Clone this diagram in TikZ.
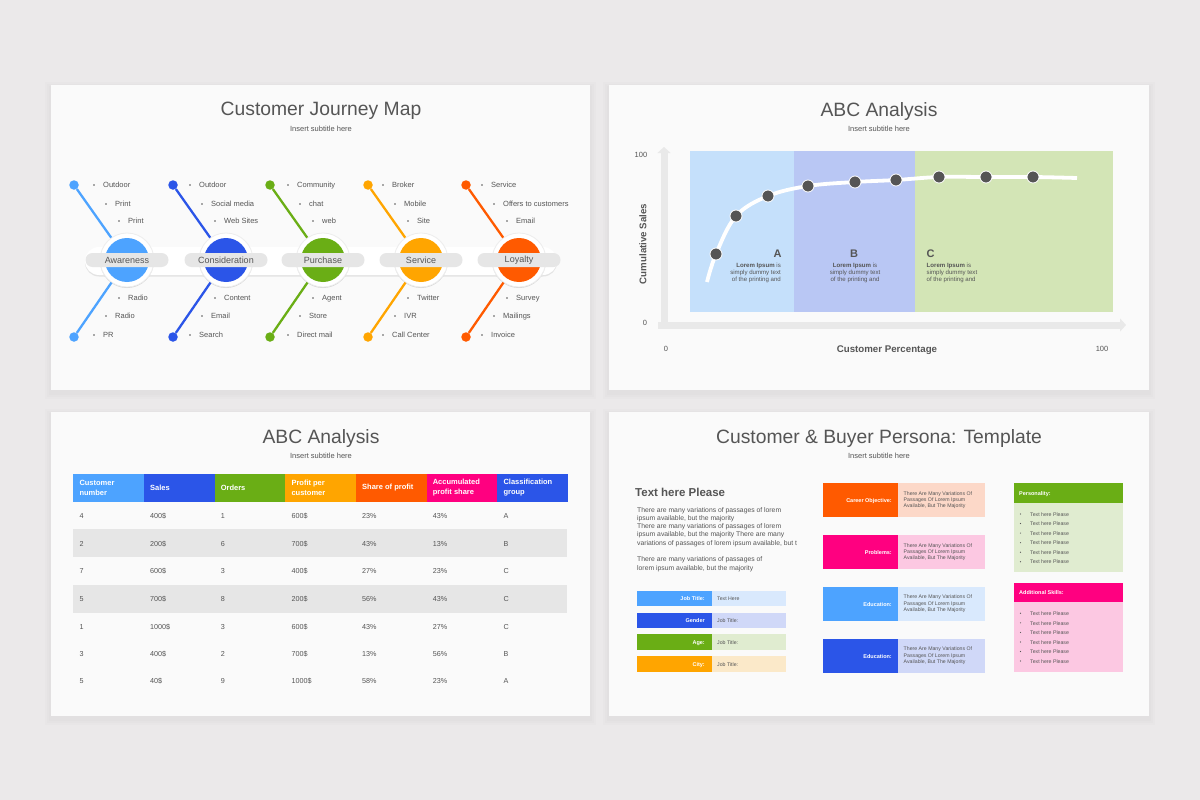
\documentclass[tikz,border=0pt]{standalone}
\usepackage{fontspec}
\setmainfont{Liberation Sans}
\usepackage{tikz}
\usetikzlibrary{arrows.meta,shadows}

\definecolor{pagegray}{HTML}{EBE9EA}
\definecolor{cardwhite}{HTML}{FAFAFA}
\definecolor{txtgray}{HTML}{555555}
\definecolor{pillgray}{HTML}{E6E6E6}
\definecolor{axisgray}{HTML}{E9E9E9}
\definecolor{cblue}{HTML}{4DA3FF}
\definecolor{cnavy}{HTML}{2B55E8}
\definecolor{cgreen}{HTML}{6AAE15}
\definecolor{camber}{HTML}{FFA500}
\definecolor{corange}{HTML}{FF5A00}
\definecolor{cpink}{HTML}{FF0080}
\definecolor{lblue}{HTML}{D9E9FD}
\definecolor{lnavy}{HTML}{D0D8F8}
\definecolor{lgreen}{HTML}{E0ECD0}
\definecolor{lamber}{HTML}{FBE9C9}
\definecolor{lorange}{HTML}{FCD8C8}
\definecolor{lpink}{HTML}{FCC8E2}
\definecolor{zonea}{HTML}{C5E0FB}
\definecolor{zoneb}{HTML}{B9C7F4}
\definecolor{zonec}{HTML}{D3E5B6}

\tikzset{
  oneline/.style={execute at begin node=\vphantom{Ag},yshift=-0.9pt},
  title/.style={font=\fontsize{19.3}{22}\selectfont,text=txtgray,inner sep=0,oneline},
  subtitle/.style={font=\fontsize{7.5}{9}\selectfont,text=txtgray,inner sep=0,oneline},
  lbl/.style={font=\fontsize{7.5}{9}\selectfont,text=txtgray,inner sep=0,anchor=west,oneline},
  pill/.style={fill=pillgray,rounded corners=7pt,minimum width=83pt,minimum height=14pt,inner sep=0,
    font=\fontsize{9}{10}\selectfont,text=txtgray,execute at begin node=\vphantom{Ag}},
  ring/.style={circle,fill=white,draw=black!7,line width=0.8pt,minimum size=54pt,inner sep=0,
    drop shadow={opacity=0.3,shadow xshift=0pt,shadow yshift=-1pt}},
  dot/.style={circle,fill=#1,minimum size=9.5pt,inner sep=0},
  chartdot/.style={circle,fill=txtgray,draw=white,line width=0.8pt,minimum size=12pt,inner sep=0},
  axislbl/.style={font=\bfseries\fontsize{9.7}{11}\selectfont,text=txtgray,inner sep=0,oneline},
  tick/.style={font=\fontsize{7.5}{9}\selectfont,text=txtgray,inner sep=0,oneline},
  lorem/.style={font=\fontsize{6.1}{7.4}\selectfont,text=txtgray,inner sep=0,align=#1},
  thead/.style={font=\bfseries\fontsize{7.5}{10.2}\selectfont,text=white,inner sep=0,anchor=west,align=left},
  tcell/.style={font=\fontsize{7.2}{8}\selectfont,text=txtgray,inner sep=0,anchor=west,oneline},
  para/.style={font=\fontsize{6.8}{8}\selectfont,text=txtgray,inner sep=0,anchor=west,oneline},
  rowlbl/.style={font=\bfseries\fontsize{5.5}{7}\selectfont,text=white,inner sep=0,oneline},
  rowtxt/.style={font=\fontsize{5.2}{6.3}\selectfont,text=txtgray,inner sep=0,anchor=west,align=left}
}

\begin{document}
\begin{tikzpicture}[x=1pt,y=-1pt]
    % draw background
    \fill[pagegray] (0,0) rectangle (1200,800);
    \useasboundingbox (0,0) rectangle (1200,800);

    % draw cards
    \foreach \xa/\ya/\xb/\yb in {51/85/590/390,609/85/1149/390,51/412/590/716,609/412/1149/716}{
      \foreach \s in {6,4,2}
        \fill[black,opacity=0.012] (\xa-\s,\ya-\s+3) rectangle (\xb+\s,\yb+\s+3);
      \fill[cardwhite] (\xa,\ya) rectangle (\xb,\yb);
    }

    % draw titles
    \node[title] (titlemap) at (321,110.2) {Customer Journey Map};
    \node[subtitle] (submap) at (321,129) {Insert subtitle here};
    \node[title] (titleabc) at (879,110.2) {ABC Analysis};
    \node[subtitle] (subabc) at (879,129) {Insert subtitle here};
    \node[title] (titletable) at (321,437.2) {ABC Analysis};
    \node[subtitle] (subtable) at (321,456) {Insert subtitle here};
    \node[title] (titlepersona) at (879,437.2) {Customer \& Buyer Persona: Template};
    \node[subtitle] (subpersona) at (879,456) {Insert subtitle here};

    % draw journey band
    \fill[white,rounded corners=14pt,drop shadow={opacity=0.18,shadow xshift=0pt,shadow yshift=-1.5pt}] (85,247) rectangle (557,275);

    % draw journey stages
    \foreach \cx/\col/\name/\off/\topa/\topb/\topc/\bota/\botb/\botc [count=\i] in {
      127/cblue/Awareness/-24/Outdoor/Print/Print/PR/Radio/Radio,
      226/cnavy/Consideration/-27/Outdoor/Social media/Web Sites/Search/Email/Content,
      323/cgreen/Purchase/-26/Community/chat/web/Direct mail/Store/Agent,
      421/camber/Service/-29/Broker/Mobile/Site/Call Center/IVR/Twitter,
      519/corange/Loyalty/-28/Service/Offers to customers/Email/Invoice/Mailings/Survey}{
      \node[ring] (stage\i) at (\cx,260) {};
      \node[circle,fill=\col,minimum size=44pt,inner sep=0] (core\i) at (\cx,260) {};
      \node[pill] (pill\i) at (\cx,260) {\raisebox{-1pt}{\name}};
      \node[dot=\col] (up\i) at (\cx-53,185) {};
      \node[dot=\col] (down\i) at (\cx-53,337) {};
      \draw[\col,line width=2.3pt] (up\i) -- (stage\i);
      \draw[\col,line width=2.3pt] (down\i) -- (stage\i);
      % bullets and their texts
      \foreach \lab/\dx/\yy in {\topa/0/185,\topb/12/204,\topc/25/221,\botc/25/298,\botb/12/316,\bota/0/335}{
        \node[lbl] (item\i-\yy) at (\cx+\off+\dx,\yy) {\lab};
        \fill[txtgray] (\cx+\off+\dx-9,\yy) circle (0.8);
      }
    }

    % draw abc zones
    \fill[zonea] (690,151) rectangle (793.5,312);
    \fill[zoneb] (793.5,151) rectangle (915,312);
    \fill[zonec] (915,151) rectangle (1113,312);

    % draw axes
    \coordinate (origin) at (664,328);
    \coordinate (ytop) at (664,147);
    \coordinate (xstart) at (658,325);
    \coordinate (xend) at (1126,325);
    \draw[axisgray,line width=7pt,-{Triangle[width=13pt,length=6pt]}] (origin) -- (ytop);
    \draw[axisgray,line width=7pt,-{Triangle[width=13pt,length=6pt]}] (xstart) -- (xend);

    % draw axis labels
    \node[tick] (yhigh) at (641,155) {100};
    \node[tick] (ylow) at (645,323) {0};
    \node[tick] (xlow) at (666,349) {0};
    \node[tick] (xhigh) at (1102,349) {100};
    \node[axislbl,rotate=90] (ytitle) at (644,243) {Cumulative Sales};
    \node[axislbl] (xtitle) at (887,349) {Customer Percentage};

    % draw curve
    \coordinate (curvestart) at (707,282);
    \coordinate (curveend) at (1077,178);
    \foreach \x/\y [count=\i] in {716/254,736/216,768/196,808/186,855/182,896/180,939/177,986/177,1033/177}
      \coordinate (pt\i) at (\x,\y);
    \draw[white,line width=3.8pt] plot[smooth,tension=0.6] coordinates {(curvestart) (pt1) (pt2) (pt3) (pt4) (pt5) (pt6) (pt7) (pt8) (pt9) (curveend)};
    \foreach \i in {1,...,9}
      \node[chartdot] (dot\i) at (pt\i) {};

    % draw zone texts
    \node[axislbl,font=\bfseries\fontsize{11}{13}\selectfont] (zonelabela) at (777.5,254) {A};
    \node[axislbl,font=\bfseries\fontsize{11}{13}\selectfont] (zonelabelb) at (854,254) {B};
    \node[axislbl,font=\bfseries\fontsize{11}{13}\selectfont] (zonelabelc) at (930.5,254) {C};
    \node[lorem=right,anchor=north east] (zonetexta) at (781,262.5) {\textbf{Lorem Ipsum} is\\simply dummy text\\of the printing and};
    \node[lorem=center,anchor=north] (zonetextb) at (855,262.5) {\textbf{Lorem Ipsum} is\\simply dummy text\\of the printing and};
    \node[lorem=left,anchor=north west] (zonetextc) at (926.5,262.5) {\textbf{Lorem Ipsum} is\\simply dummy text\\of the printing and};

    % draw table header
    \foreach \x/\col/\name [count=\i] in {
      73.3/cblue/{Customer\\number},
      144/cnavy/Sales,
      214.6/cgreen/Orders,
      285.3/camber/{Profit per\\customer},
      356/corange/Share of profit,
      426.6/cpink/{Accumulated\\profit share},
      497.3/cnavy/{Classification\\group}}{
      \fill[\col] (\x,474) rectangle (\x+70.7,501.5);
      \node[thead] (head\i) at (\x+6,487.7) {\name};
    }

    % draw grey table rows
    \fill[pillgray] (73.3,529.2) rectangle (567,557);
    \fill[pillgray] (73.3,584.8) rectangle (567,612.5);

    % draw table cells
    \foreach \yy/\va/\vb/\vc/\vd/\ve/\vf/\vg in {
      516/4/400\$/1/600\$/23\%/43\%/A,
      543.5/2/200\$/6/700\$/43\%/13\%/B,
      571/7/600\$/3/400\$/27\%/23\%/C,
      599/5/700\$/8/200\$/56\%/43\%/C,
      626.5/1/1000\$/3/600\$/43\%/27\%/C,
      654/3/400\$/2/700\$/13\%/56\%/B,
      681/5/40\$/9/1000\$/58\%/23\%/A}{
      \foreach \x/\val in {79.3/\va,150/\vb,220.6/\vc,291.3/\vd,362/\ve,432.6/\vf,503.3/\vg}
        \node[tcell] (cell\x-\yy) at (\x,\yy) {\val};
    }

    % draw persona text
    \node[axislbl,anchor=west,font=\bfseries\fontsize{11.5}{13}\selectfont] (textheading) at (635,493) {Text here Please};
    \foreach \yy/\line in {
      510/There are many variations of passages of lorem,
      518.2/ipsum available{,} but the majority,
      526.3/There are many variations of passages of lorem,
      534.3/ipsum available{,} but the majority There are many,
      542.5/variations of passages of lorem  ipsum available{,} but t,
      559/There are many variations of passages of,
      567.5/lorem ipsum available{,} but the majority}
      \node[para] (para\yy) at (637,\yy) {\line};

    % draw job rows
    \foreach \ya/\yb/\col/\pale/\name/\val in {
      591/606/cblue/lblue/Job Title:/Text Here,
      612.5/628/cnavy/lnavy/Gender/Job Title:,
      634/650/cgreen/lgreen/Age:/Job Title:,
      656/672/camber/lamber/City:/Job Title:}{
      \fill[\pale] (712,\ya) rectangle (786,\yb);
      \fill[\col] (637,\ya) rectangle (712,\yb);
      \node[rowlbl,anchor=east] (job\ya) at (705,{(\ya+\yb)/2}) {\name};
      \node[rowtxt,oneline] (jobtext\ya) at (717,{(\ya+\yb)/2}) {\val};
    }

    % draw middle rows
    \foreach \ya/\yb/\col/\pale/\name in {
      483/517/corange/lorange/Career Objective:,
      535/569/cpink/lpink/Problems:,
      587/620.5/cblue/lblue/Education:,
      639/672.5/cnavy/lnavy/Education:}{
      \fill[\pale] (898,\ya) rectangle (985,\yb);
      \fill[\col] (823,\ya) rectangle (898,\yb);
      \node[rowlbl,anchor=east] (goal\ya) at (892,{(\ya+\yb)/2}) {\name};
      \node[rowtxt] (goaltext\ya) at (903.5,{(\ya+\yb)/2}) {There Are Many Variations Of\\Passages Of Lorem Ipsum\\Available, But The Majority};
    }

    % draw right panels
    \foreach \ya/\yb/\yc/\col/\pale/\name/\ystart in {
      483/502.5/572/cgreen/lgreen/Personality:/514,
      582.5/602/672/cpink/lpink/Additional Skills:/613.3}{
      \fill[\pale] (1013.5,\yb) rectangle (1123,\yc);
      \fill[\col] (1013.5,\ya) rectangle (1123,\yb);
      \node[rowlbl,anchor=west] (panel\ya) at (1019,{(\ya+\yb)/2}) {\name};
      \foreach \n in {0,...,5}{
        \fill[txtgray] (1020.5,\ystart+\n*9.55) circle (0.6);
        \node[rowtxt,oneline] (panelitem\ya-\n) at (1030,\ystart+\n*9.55) {Text here Please};
      }
    }
\end{tikzpicture}
\end{document}
